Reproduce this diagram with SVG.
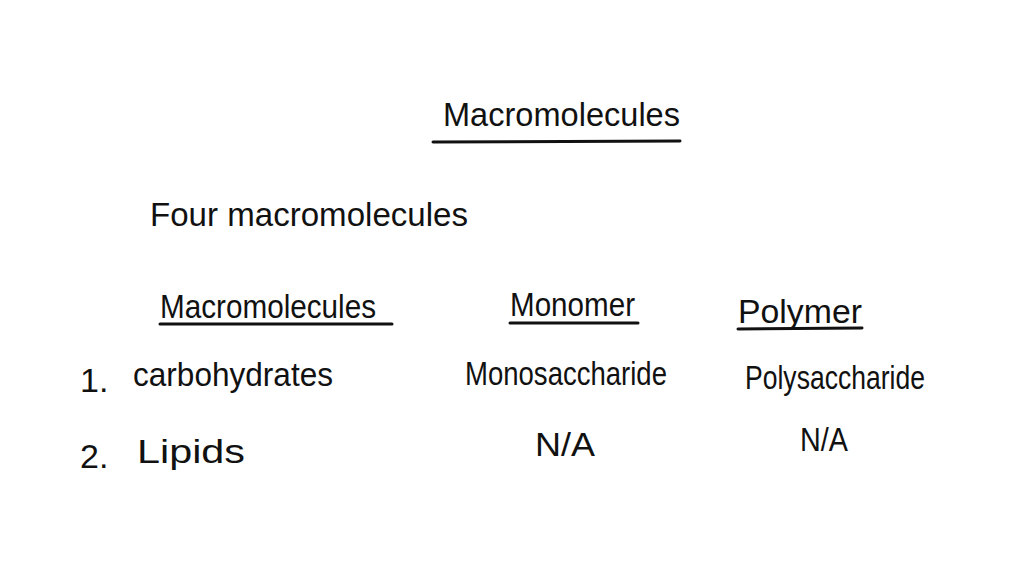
<svg xmlns="http://www.w3.org/2000/svg" width="1024" height="576" viewBox="0 0 1024 576">
<style>
text{font-family:"Liberation Sans","DejaVu Sans",sans-serif;fill:#111;font-size:34px}
line{stroke:#111;stroke-width:3;stroke-linecap:round}
</style>
<rect width="1024" height="576" fill="#fff"/>
<text x="443" y="126" font-size="40" textLength="237" lengthAdjust="spacingAndGlyphs">Macromolecules</text>
<line x1="433" y1="142" x2="680" y2="141"/>
<text x="150" y="226" font-size="36" textLength="318" lengthAdjust="spacingAndGlyphs">Four macromolecules</text>
<text x="160" y="318" font-size="30" textLength="216" lengthAdjust="spacingAndGlyphs">Macromolecules</text>
<line x1="160" y1="324" x2="392" y2="324"/>
<text x="510" y="316" font-size="30" textLength="125" lengthAdjust="spacingAndGlyphs">Monomer</text>
<line x1="510" y1="323" x2="638" y2="323"/>
<text x="738" y="323" font-size="30" textLength="124" lengthAdjust="spacingAndGlyphs">Polymer</text>
<line x1="738" y1="329" x2="862" y2="328"/>
<text x="80" y="392" font-size="30">1.</text>
<text x="133" y="386" font-size="30" textLength="200" lengthAdjust="spacingAndGlyphs">carbohydrates</text>
<text x="465" y="385" font-size="30" textLength="202" lengthAdjust="spacingAndGlyphs">Monosaccharide</text>
<text x="745" y="389" font-size="30" textLength="180" lengthAdjust="spacingAndGlyphs">Polysaccharide</text>
<text x="80" y="468" font-size="30">2.</text>
<text x="137" y="463" font-size="32" textLength="108" lengthAdjust="spacingAndGlyphs">Lipids</text>
<text x="535" y="456" font-size="30" textLength="60" lengthAdjust="spacingAndGlyphs">N/A</text>
<text x="800" y="451" font-size="30" textLength="48" lengthAdjust="spacingAndGlyphs">N/A</text>
</svg>
